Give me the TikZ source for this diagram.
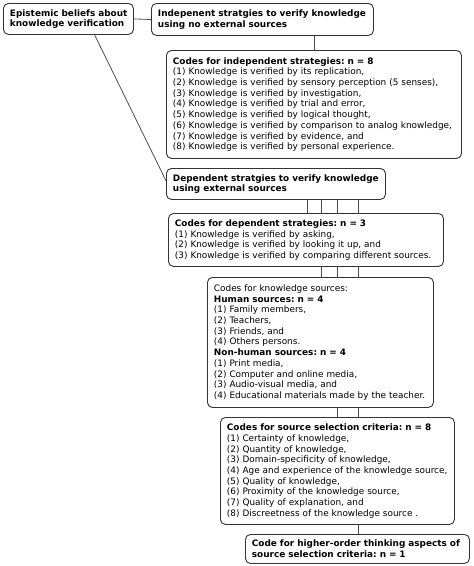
\documentclass[tikz,border=0pt]{standalone}
\usepackage{fontspec}
\setmainfont{DejaVu Sans}
\usetikzlibrary{backgrounds,calc}
\frenchspacing
\begin{document}
\begin{tikzpicture}[x=1pt,y=-1pt,
  box/.style={draw=black!80, line width=0.9pt, rounded corners=5pt, fill=white,
    anchor=north west, inner xsep=6.5pt, inner ysep=0pt, align=left,
    font=\fontsize{8.9}{10.7}\selectfont\frenchspacing},
  link/.style={draw=black!70, line width=0.8pt}]
\useasboundingbox (0,0) rectangle (474,566);

\node[box, inner xsep=3pt, minimum width=130, minimum height=31, text width=124] (A) at (3,3)
  {\hspace*{3.5pt}\textbf{Epistemic beliefs about}\\\hspace*{3.5pt}\textbf{knowledge verification}};
\node[box, minimum width=222, minimum height=32, text width=209] (B) at (151,3)
  {\textbf{Indepenent stratgies to verify knowledge}\\\textbf{using no external sources}};
\node[box, minimum width=295, minimum height=108, text width=282] (C) at (166,50)
  {\textbf{Codes for independent strategies: n = 8}\\
   (1) Knowledge is verified by its replication,\\
   (2) Knowledge is verified by sensory perception (5 senses),\\
   (3) Knowledge is verified by investigation,\\
   (4) Knowledge is verified by trial and error,\\
   (5) Knowledge is verified by logical thought,\\
   (6) Knowledge is verified by comparison to analog knowledge,\\
   (7) Knowledge is verified by evidence, and\\
   (8) Knowledge is verified by personal experience.};
\node[box, minimum width=219, minimum height=31, text width=206] (D) at (166,168)
  {\textbf{Dependent stratgies to verify knowledge}\\\textbf{using external sources}};
\node[box, minimum width=275, minimum height=53, text width=262] (E) at (168,213)
  {\textbf{Codes for dependent strategies: n = 3}\\
   (1) Knowledge is verified by asking,\\
   (2) Knowledge is verified by looking it up, and\\
   (3) Knowledge is verified by comparing different sources.};
\node[box, minimum width=226, minimum height=130, text width=213] (F) at (207,277)
  {Codes for knowledge sources:\\
   \textbf{Human sources: n = 4}\\
   (1) Family members,\\
   (2) Teachers,\\
   (3) Friends, and\\
   (4) Others persons.\\
   \textbf{Non-human sources: n = 4}\\
   (1) Print media,\\
   (2) Computer and online media,\\
   (3) Audio-visual media, and\\
   (4) Educational materials made by the teacher.};
\node[box, minimum width=234, minimum height=107, text width=221] (G) at (220,417)
  {\textbf{Codes for source selection criteria: n = 8}\\
   (1) Certainty of knowledge,\\
   (2) Quantity of knowledge,\\
   (3) Domain-specificity of knowledge,\\
   (4) Age and experience of the knowledge source,\\
   (5) Quality of knowledge,\\
   (6) Proximity of the knowledge source,\\
   (7) Quality of explanation, and\\
   (8) Discreetness of the knowledge source .};
\node[box, minimum width=224, minimum height=29, text width=211] (H) at (245,534)
  {\textbf{Code for higher-order thinking aspects of}\\\textbf{source selection criteria: n = 1}};

\begin{pgfonlayer}{background}
  \draw[link] (A.east) -- (B.west);
  \draw[link] (B.south -| C.north) -- (C.north);
  \coordinate (a1) at ($(A.south west)!0.7!(A.south east)$);
  \draw[link] (a1) -- ($(D.north west)!0.4!(D.south west)$);
  \path ([xshift=31.5pt]D.south) coordinate (d1)
        ([xshift=45.5pt]D.south) coordinate (d2)
        ([xshift=61.5pt]D.south) coordinate (d3)
        ([xshift=82.5pt]D.south) coordinate (d4);
  \draw[link] (d1) -- (d1 |- E.north);
  \draw[link] (d2) -- (d2 |- F.north);
  \draw[link] (d3) -- (d3 |- G.north);
  \draw[link] (d4) -- (d4 |- H.north);
\end{pgfonlayer}
\end{tikzpicture}
\end{document}
